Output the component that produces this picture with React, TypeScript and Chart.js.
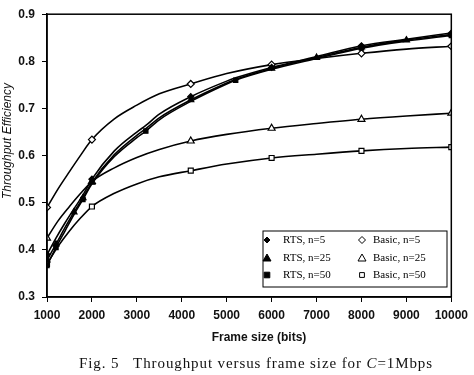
import React, { useEffect, useRef } from "react";
import { Chart, registerables } from "chart.js";

Chart.register(...registerables);

// ---- data ----
const xTicks = [1000, 2000, 3000, 4000, 5000, 6000, 7000, 8000, 9000, 10000];
const yTicks = [0.3, 0.4, 0.5, 0.6, 0.7, 0.8, 0.9];

// RTS curves (frame size in bits -> efficiency)
const rtsX = [1000, 1200, 1400, 1600, 1800, 2000, 2500, 3000, 3200, 3500, 4200, 5000, 5200, 6000, 7000, 8000, 9000, 10000];
const rts5Y = [0.39, 0.425, 0.457, 0.487, 0.516, 0.55, 0.61, 0.65, 0.664, 0.688, 0.725, 0.758, 0.765, 0.787, 0.81, 0.833, 0.847, 0.86];
const rts25Y = [0.378, 0.412, 0.447, 0.48, 0.51, 0.543, 0.602, 0.643, 0.657, 0.68, 0.718, 0.754, 0.762, 0.785, 0.808, 0.83, 0.845, 0.857];
const rts50Y = [0.367, 0.405, 0.44, 0.475, 0.507, 0.54, 0.598, 0.638, 0.652, 0.676, 0.715, 0.752, 0.76, 0.783, 0.806, 0.828, 0.843, 0.855];
const rts5Marks = [1000, 2000, 4200, 6000, 8000, 10000];
const rts25Marks = [1000, 1200, 1600, 1800, 2000, 4200, 6000, 7000, 8000, 9000, 10000];
const rts50Marks = [1000, 1200, 1800, 3200, 5200, 8000, 10000];

// Basic curves
const basicX = [1000, 1250, 1500, 1750, 2000, 2500, 3000, 3500, 4200, 5000, 6000, 7000, 8000, 9000, 10000];
const basic5Y = [0.49, 0.53, 0.566, 0.601, 0.634, 0.678, 0.707, 0.731, 0.752, 0.774, 0.793, 0.806, 0.817, 0.826, 0.832];
const basic25Y = [0.425, 0.462, 0.492, 0.52, 0.545, 0.574, 0.596, 0.613, 0.631, 0.645, 0.658, 0.668, 0.677, 0.684, 0.69];
const basic50Y = [0.37, 0.408, 0.44, 0.468, 0.492, 0.52, 0.54, 0.555, 0.568, 0.582, 0.595, 0.603, 0.61, 0.615, 0.618];
const basicMarks = [1000, 2000, 4200, 6000, 8000, 10000];

const seriesLabels = ["RTS, n=5", "RTS, n=25", "RTS, n=50", "Basic, n=5", "Basic, n=25", "Basic, n=50"];

const zip = (xs: number[], ys: number[]) => xs.map((x, i) => ({ x, y: ys[i] }));

const SANS = "'Liberation Sans', Arial, sans-serif";
const SERIF = "'Liberation Serif', 'Times New Roman', serif";

function drawMarker(ctx: CanvasRenderingContext2D, style: string, r: number, x: number, y: number) {
  ctx.beginPath();
  if (style === "rectRot") {
    ctx.moveTo(x, y - r);
    ctx.lineTo(x + r, y);
    ctx.lineTo(x, y + r);
    ctx.lineTo(x - r, y);
    ctx.closePath();
  } else if (style === "triangle") {
    ctx.moveTo(x, y - r);
    ctx.lineTo(x + r, y + r * 0.75);
    ctx.lineTo(x - r, y + r * 0.75);
    ctx.closePath();
  } else {
    ctx.rect(x - r * 0.8, y - r * 0.8, r * 1.6, r * 1.6);
  }
  ctx.fill();
  ctx.stroke();
}

const overlayPlugin = {
  id: "overlay",
  afterDraw(chart: any) {
    const ctx = chart.ctx as CanvasRenderingContext2D;
    const a = chart.chartArea;
    ctx.save();
    // frame
    ctx.strokeStyle = "#000";
    ctx.lineWidth = 1.5;
    ctx.strokeRect(a.left, a.top, a.right - a.left, a.bottom - a.top);

    // axis titles
    ctx.fillStyle = "#111";
    ctx.font = `bold 12px ${SANS}`;
    ctx.textAlign = "center";
    ctx.textBaseline = "middle";
    ctx.fillText("Frame size (bits)", 259, 338);

    ctx.save();
    ctx.translate(8, 141);
    ctx.rotate(-Math.PI / 2);
    ctx.font = `italic 12px ${SANS}`;
    ctx.fillText("Throughput Efficiency", 0, 0);
    ctx.restore();

    // legend
    const bx = 263, by = 231, bw = 184, bh = 56;
    ctx.fillStyle = "#fff";
    ctx.fillRect(bx, by, bw, bh);
    ctx.lineWidth = 1;
    ctx.strokeStyle = "#000";
    ctx.strokeRect(bx, by, bw, bh);
    const rowsY = [240, 258, 275];
    const markX = [267, 362];
    const textX = [283, 373];
    ctx.font = `11px ${SERIF}`;
    ctx.textAlign = "left";
    ctx.textBaseline = "middle";
    chart.data.datasets.forEach((ds: any, i: number) => {
      const col = Math.floor(i / 3);
      const row = i % 3;
      ctx.fillStyle = ds.pointBackgroundColor;
      ctx.strokeStyle = "#000";
      ctx.lineWidth = 1;
      drawMarker(ctx, ds.pointStyle, ds.legendRadius, markX[col], rowsY[row]);
      ctx.fillStyle = "#000";
      ctx.fillText(ds.label, textX[col], rowsY[row] + 0.5);
    });
    ctx.restore();
  },
};

export default function App() {
  const ref = useRef<HTMLCanvasElement | null>(null);

  useEffect(() => {
    if (!ref.current) return;
    const mk = (
      label: string,
      xs: number[],
      ys: number[],
      marks: number[],
      pointStyle: string,
      filled: boolean,
      radius: number,
      legendRadius: number
    ) => ({
      label,
      data: zip(xs, ys),
      borderColor: "#000",
      borderWidth: 1.6,
      pointStyle,
      pointRadius: (c: any) => (c.raw && marks.includes(c.raw.x) ? radius : 0),
      pointBorderColor: "#000",
      pointBorderWidth: 1.2,
      pointBackgroundColor: filled ? "#000" : "#fff",
      legendRadius,
      cubicInterpolationMode: "monotone" as const,
      fill: false,
    });

    const chart = new Chart(ref.current, {
      type: "line",
      data: {
        datasets: [
          mk(seriesLabels[0], rtsX, rts5Y, rts5Marks, "rectRot", true, 3, 3),
          mk(seriesLabels[1], rtsX, rts25Y, rts25Marks, "triangle", true, 3.5, 4),
          mk(seriesLabels[2], rtsX, rts50Y, rts50Marks, "rect", true, 3, 3.5),
          mk(seriesLabels[3], basicX, basic5Y, basicMarks, "rectRot", false, 3.5, 3.5),
          mk(seriesLabels[4], basicX, basic25Y, basicMarks, "triangle", false, 4, 4),
          mk(seriesLabels[5], basicX, basic50Y, basicMarks, "rect", false, 3.5, 3),
        ] as any,
      },
      options: {
        animation: false,
        responsive: false,
        layout: { padding: { top: 5, right: 16, left: 0, bottom: 0 } },
        plugins: { legend: { display: false }, tooltip: { enabled: false } },
        scales: {
          x: {
            type: "linear",
            min: xTicks[0],
            max: xTicks[xTicks.length - 1],
            afterBuildTicks: (s: any) => {
              s.ticks = xTicks.map((v) => ({ value: v }));
            },
            afterFit: (s: any) => {
              s.height = 78;
            },
            ticks: {
              color: "#111",
              font: { family: SANS, size: 12, weight: "bold" },
              padding: 6,
              maxRotation: 0,
              autoSkip: false,
              callback: (v: any) => String(v),
            },
            grid: { display: true, drawOnChartArea: false, drawTicks: true, tickLength: 5, color: "#000", lineWidth: 1 },
            border: { display: true, color: "#000", width: 1.5 },
          },
          y: {
            type: "linear",
            min: yTicks[0],
            max: yTicks[yTicks.length - 1],
            afterBuildTicks: (s: any) => {
              s.ticks = yTicks.map((v) => ({ value: v }));
            },
            afterFit: (s: any) => {
              s.width = 47;
            },
            ticks: {
              color: "#111",
              font: { family: SANS, size: 12, weight: "bold" },
              padding: 7,
              callback: (v: any) => Number(v).toFixed(1),
            },
            grid: { display: true, drawOnChartArea: false, drawTicks: true, tickLength: 5, color: "#000", lineWidth: 1 },
            border: { display: true, color: "#000", width: 1.5 },
          },
        },
      },
      plugins: [overlayPlugin],
    });
    return () => chart.destroy();
  }, []);

  return (
    <div style={{ position: "absolute", left: 0, top: 0, width: 474, height: 375, background: "#fff", overflow: "hidden" }}>
      <canvas ref={ref} width={474} height={375} style={{ display: "block", width: 474, height: 375 }} />
      <div
        style={{
          position: "absolute",
          left: 0,
          width: 474,
          top: 353,
          textAlign: "center",
          paddingLeft: 38,
          boxSizing: "border-box",
          fontFamily: SERIF,
          fontSize: 15,
          letterSpacing: "0.9px",
          whiteSpace: "pre",
          color: "#111",
          lineHeight: "20px",
        }}
      >
        {"Fig. 5   Throughput versus frame size for "}
        <i>C</i>
        {"=1Mbps"}
      </div>
    </div>
  );
}
